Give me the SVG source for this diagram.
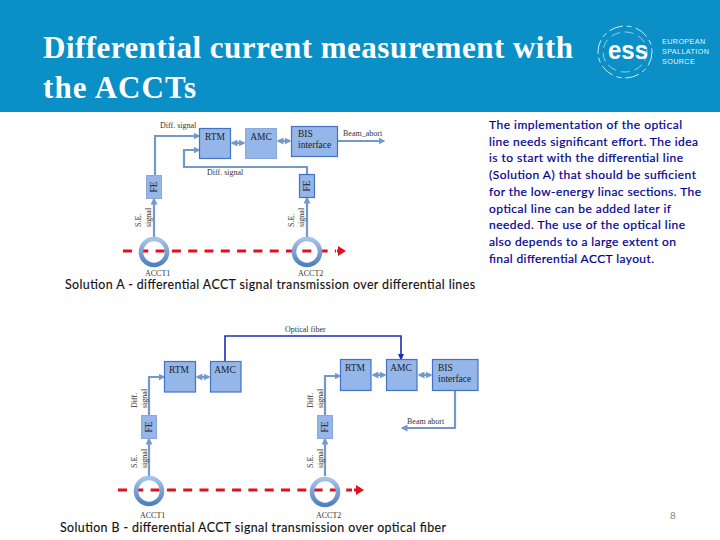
<svg xmlns="http://www.w3.org/2000/svg" width="720" height="540" viewBox="0 0 720 540">
<style>
.box{fill:#94b6e8;stroke:#4472c4;stroke-width:1.2}
.boxl{fill:#94b6e8;stroke:#8aa8d8;stroke-width:1}
.lb{font-family:"Liberation Serif",serif;font-size:8px;fill:#333}
.bl{font-family:"Liberation Serif",serif;font-size:9.5px;fill:#222;text-anchor:middle}
.bl2{font-family:"Liberation Serif",serif;font-size:9.5px;fill:#222}
.ln{fill:none;stroke:#7598cb;stroke-width:2.2}
.ring{fill:none;stroke:url(#rg);stroke-width:4.6}
.red{fill:none;stroke:#e01020;stroke-width:3;stroke-dasharray:9 7.300}
.body{font-family:"Lato",sans-serif;font-size:12px;fill:#00008f;stroke:#00008f;stroke-width:.2}
.cap{font-family:"Lato",sans-serif;font-size:12.400px;fill:#111;stroke:#111;stroke-width:.15}
.title{font-family:"Liberation Serif",serif;font-weight:bold;font-size:31px;fill:#fff}
.ess{font-family:"Liberation Sans",sans-serif;font-size:7.200px;fill:#e4f4fb;letter-spacing:.4px}
</style>
<defs>
<linearGradient id="rg" x1="0" y1="0" x2="0" y2="1"><stop offset="0" stop-color="#a6c3ea"/><stop offset="1" stop-color="#4f81bd"/></linearGradient>
<marker id="a" markerWidth="7" markerHeight="7" refX="5.500" refY="3.500" orient="auto-start-reverse" markerUnits="userSpaceOnUse"><path d="M0 0L7 3.500L0 7Z" fill="#7598cb"/></marker>
<marker id="r" markerWidth="8" markerHeight="10" refX="5" refY="5" orient="auto" markerUnits="userSpaceOnUse"><path d="M0 0L8 5L0 10Z" fill="#e01020"/></marker>
<marker id="b" markerWidth="7" markerHeight="6" refX="5" refY="3" orient="auto" markerUnits="userSpaceOnUse"><path d="M0 0L7 3L0 6Z" fill="#1c2fb0"/></marker>
</defs>
<rect width="720" height="540" fill="#fff"/>
<g id="header">
<rect width="720" height="112" fill="#0a8fc6"/>
<text class="title" x="43" y="58" textLength="530">Differential current measurement with</text>
<text class="title" x="43" y="98" textLength="153">the ACCTs</text>
</g>
<g id="logo">
<ellipse cx="625" cy="52" rx="27" ry="26" fill="none" stroke="#cfeaf6" stroke-width="1" stroke-dasharray="14 4 5 4"/>
<ellipse cx="625" cy="52" rx="22" ry="20" fill="none" stroke="#cfeaf6" stroke-width=".7" stroke-dasharray="9 5"/>
<text x="628" y="59" text-anchor="middle" font-family="Liberation Sans,sans-serif" font-weight="bold" font-size="25" fill="#fff" textLength="40" lengthAdjust="spacingAndGlyphs">ess</text>
<text class="ess" x="662" y="44">EUROPEAN</text>
<text class="ess" x="662" y="54">SPALLATION</text>
<text class="ess" x="662" y="64">SOURCE</text>
</g>
<g id="text-right">
<text class="body" x="489" y="129" textLength="193">The implementation of the optical</text>
<text class="body" x="489" y="146" textLength="209">line needs significant effort. The idea</text>
<text class="body" x="489" y="162" textLength="194">is to start with the differential line</text>
<text class="body" x="489" y="179" textLength="207">(Solution A) that should be sufficient</text>
<text class="body" x="489" y="196" textLength="212">for the low-energy linac sections. The</text>
<text class="body" x="489" y="213" textLength="182">optical line can be added later if</text>
<text class="body" x="489" y="229" textLength="196">needed. The use of the optical line</text>
<text class="body" x="489" y="246" textLength="187">also depends to a large extent on</text>
<text class="body" x="489" y="263" textLength="165">final differential ACCT layout.</text>
</g>
<text class="cap" x="65" y="289" textLength="410">Solution A - differential ACCT signal transmission over differential lines</text>
<text class="cap" x="60" y="532" textLength="386">Solution B - differential ACCT signal transmission over optical fiber</text>
<text x="673" y="519" font-family="Lato,sans-serif" font-size="10" fill="#888" text-anchor="middle">8</text>

<g id="connectors-a">
<path class="ln" marker-end="url(#a)" d="M154 237V199"/>
<path class="ln" marker-end="url(#a)" d="M307 237V198"/>
<path class="ln" marker-end="url(#a)" d="M155 175V136H199"/>
<path class="ln" marker-end="url(#a)" d="M307 174V167H184V150H199"/>
<path class="ln" marker-start="url(#a)" marker-end="url(#a)" d="M232 143H244"/>
<path class="ln" marker-start="url(#a)" marker-end="url(#a)" d="M278 141H290"/>
<path class="ln" marker-end="url(#a)" d="M338 141H384"/>
<path class="red" d="M123 251H336"/>
<path d="M337 251H343" stroke="#e01020" stroke-width="3" marker-end="url(#r)"/>
</g>
<g id="connectors-b">
<path class="ln" marker-end="url(#a)" d="M149 476V439"/>
<path class="ln" marker-end="url(#a)" d="M149 415V377H164"/>
<path class="ln" marker-start="url(#a)" marker-end="url(#a)" d="M197 377H209"/>
<path class="ln" marker-end="url(#a)" d="M325 476V439"/>
<path class="ln" marker-end="url(#a)" d="M325 415V376H340"/>
<path class="ln" marker-start="url(#a)" marker-end="url(#a)" d="M373 375H385"/>
<path class="ln" marker-start="url(#a)" marker-end="url(#a)" d="M419 375H431"/>
<path class="ln" marker-end="url(#a)" d="M455 391V428H402"/>
<path fill="none" stroke="#1c2fb0" stroke-width="1.600" marker-end="url(#b)" d="M225 361V336H401V359"/>
<path class="red" d="M118 490H352"/>
<path d="M354 490H361" stroke="#e01020" stroke-width="3" marker-end="url(#r)"/>
</g>

<g id="a-rtm"><rect class="box" x="199.500" y="128.500" width="31" height="30"/><text class="bl" x="215" y="140">RTM</text></g>
<g id="a-amc"><rect class="boxl" x="245.500" y="128.500" width="31" height="30"/><text class="bl" x="261" y="140">AMC</text></g>
<g id="a-bis"><rect class="box" x="291.500" y="126.500" width="46" height="30"/><text class="bl2" x="298" y="137">BIS</text><text class="bl2" x="298" y="148">interface</text></g>
<g id="a-fe1"><rect class="boxl" x="146.500" y="175.500" width="15" height="23"/><text class="bl" transform="translate(157,187) rotate(-90)">FE</text></g>
<g id="a-fe2"><rect class="box" x="299.500" y="174.500" width="15" height="23"/><text class="bl" transform="translate(310,186) rotate(-90)">FE</text></g>
<g id="a-acct1"><circle class="ring" cx="154" cy="252" r="13"/><text class="lb" x="145" y="276">ACCT1</text></g>
<g id="a-acct2"><circle class="ring" cx="307" cy="252" r="13"/><text class="lb" x="298" y="276">ACCT2</text></g>
<g id="a-labels">
<text class="lb" x="160" y="128">Diff. signal</text>
<text class="lb" x="207" y="175">Diff. signal</text>
<text class="lb" x="343" y="136">Beam_abort</text>
<text class="lb" transform="translate(141,227) rotate(-90)">S.E.</text>
<text class="lb" transform="translate(151,227) rotate(-90)">signal</text>
<text class="lb" transform="translate(294,227) rotate(-90)">S.E.</text>
<text class="lb" transform="translate(304,227) rotate(-90)">signal</text>
</g>

<g id="b-rtm1"><rect class="box" x="164.500" y="361.500" width="31" height="30.500"/><text class="bl" x="179" y="373">RTM</text></g>
<g id="b-amc1"><rect class="box" x="210.500" y="361.500" width="30.500" height="30.500"/><text class="bl" x="225" y="373">AMC</text></g>
<g id="b-fe1"><rect class="boxl" x="141.500" y="415.500" width="15" height="23"/><text class="bl" transform="translate(152,427) rotate(-90)">FE</text></g>
<g id="b-rtm2"><rect class="box" x="340.500" y="359.500" width="30.500" height="31"/><text class="bl" x="355" y="371">RTM</text></g>
<g id="b-amc2"><rect class="box" x="386.500" y="359.500" width="30.500" height="31"/><text class="bl" x="401" y="371">AMC</text></g>
<g id="b-bis"><rect class="box" x="432.500" y="359.500" width="45.500" height="31"/><text class="bl2" x="438" y="371">BIS</text><text class="bl2" x="438" y="382">interface</text></g>
<g id="b-fe2"><rect class="boxl" x="317.500" y="415.500" width="15" height="23"/><text class="bl" transform="translate(328,427) rotate(-90)">FE</text></g>
<g id="b-acct1"><circle class="ring" cx="149" cy="491" r="13"/><text class="lb" x="140" y="518">ACCT1</text></g>
<g id="b-acct2"><circle class="ring" cx="325" cy="492" r="13"/><text class="lb" x="316" y="518">ACCT2</text></g>
<g id="b-labels">
<text class="lb" x="285" y="332">Optical fiber</text>
<text class="lb" x="407" y="424">Beam abort</text>
<text class="lb" transform="translate(137,408) rotate(-90)">Diff.</text>
<text class="lb" transform="translate(147,408) rotate(-90)">signal</text>
<text class="lb" transform="translate(313,408) rotate(-90)">Diff.</text>
<text class="lb" transform="translate(323,408) rotate(-90)">signal</text>
<text class="lb" transform="translate(137,468) rotate(-90)">S.E.</text>
<text class="lb" transform="translate(147,468) rotate(-90)">signal</text>
<text class="lb" transform="translate(313,468) rotate(-90)">S.E.</text>
<text class="lb" transform="translate(323,468) rotate(-90)">signal</text>
</g>
</svg>
